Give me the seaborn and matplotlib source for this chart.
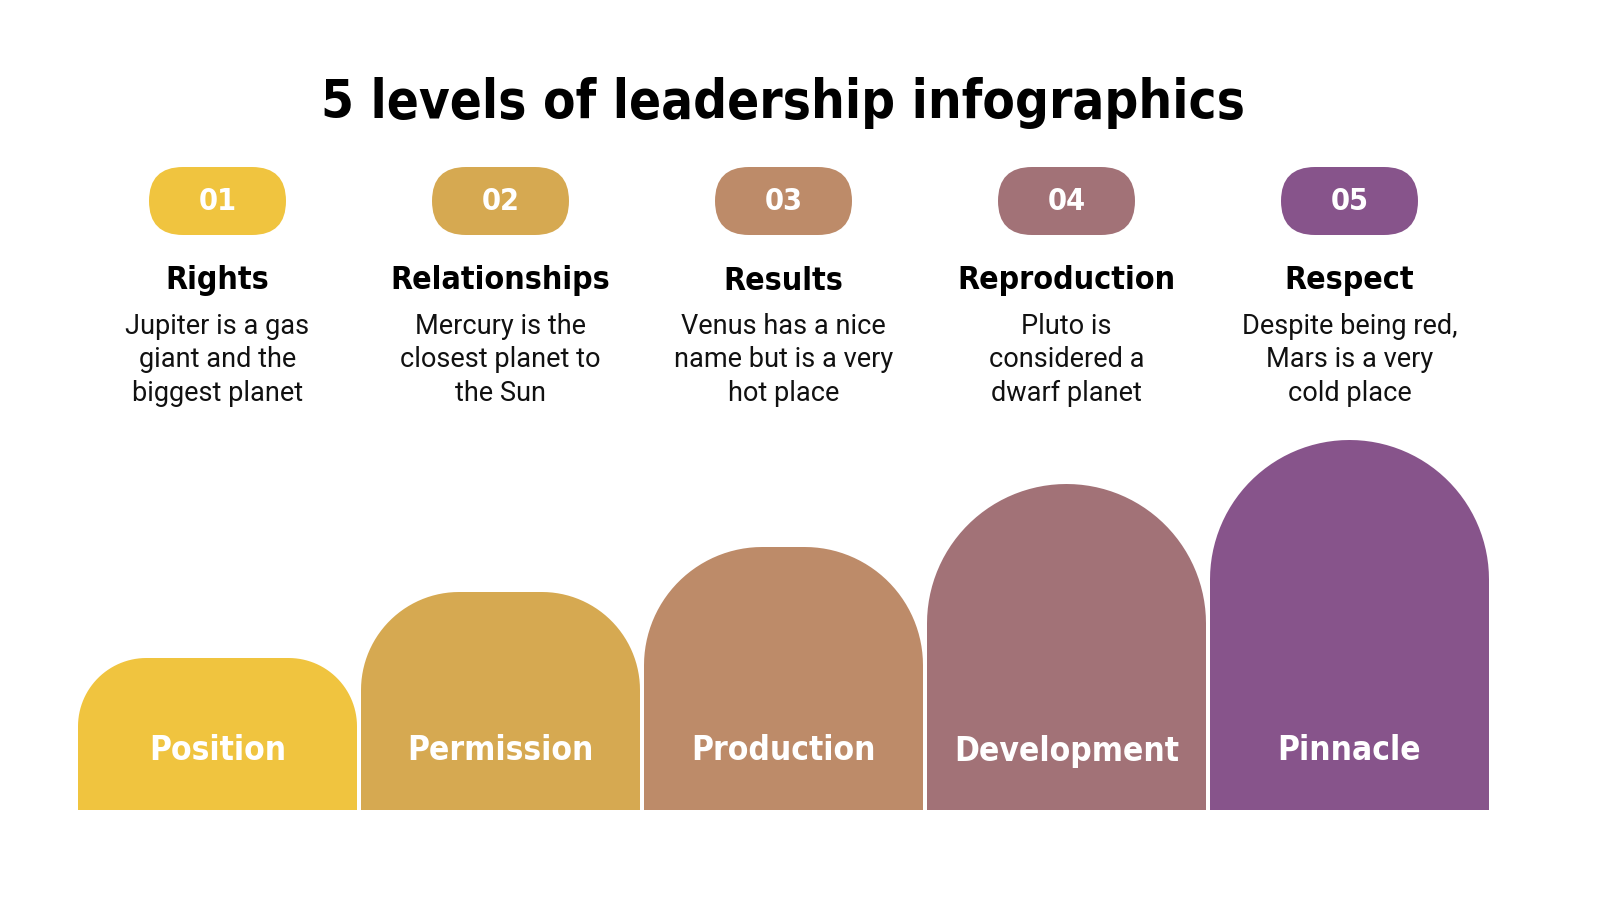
import numpy as np
import matplotlib
matplotlib.use("Agg")
import matplotlib.pyplot as plt
import seaborn as sns
from matplotlib.patches import Polygon, FancyBboxPatch

sns.set_theme(style="white")
plt.rcParams['font.family'] = ['Roboto', 'DejaVu Sans']

title = "5 levels of leadership infographics"
numbers = ["01", "02", "03", "04", "05"]
headings = ["Rights", "Relationships", "Results", "Reproduction", "Respect"]
descriptions = ["Jupiter is a gas\ngiant and the\nbiggest planet",
                "Mercury is the\nclosest planet to\nthe Sun",
                "Venus has a nice\nname but is a very\nhot place",
                "Pluto is\nconsidered a\ndwarf planet",
                "Despite being red,\nMars is a very\ncold place"]
levels = ["Position", "Permission", "Production", "Development", "Pinnacle"]
heights = [152, 218, 263, 326, 370]
colors = ["#F0C43F", "#D6A951", "#BD8B69", "#A27277", "#87548B"]

fig = plt.figure(figsize=(16, 9), dpi=100)
ax = fig.add_axes([0, 0, 1, 1])
ax.set_xlim(0, 1600)
ax.set_ylim(0, 900)
ax.axis("off")

cond = dict(family="DejaVu Sans", fontstretch="condensed", fontweight="bold")
ax.text(783, 900 - 103, title, ha="center", va="center", fontsize=38, color="black", **cond)

step, x0, w, base = 283, 78, 279, 90
for i in range(5):
    left = x0 + i * step
    cx = left + w / 2
    h = heights[i]
    r = min(w / 2, h * 0.45)
    t = np.linspace(0, np.pi / 2, 30)
    pts = [(left, base), (left, base + h - r)]
    pts += list(zip(left + r - r * np.cos(t), base + h - r + r * np.sin(t)))
    pts += list(zip(left + w - r + r * np.sin(t), base + h - r + r * np.cos(t)))
    pts += [(left + w, base + h - r), (left + w, base)]
    ax.add_patch(Polygon(pts, closed=True, color=colors[i], lw=0))
    ax.text(cx, 900 - 751, levels[i], ha="center", va="center", fontsize=24, color="white", **cond)
    pw, ph = 137, 68
    ax.add_patch(FancyBboxPatch((cx - pw / 2 + ph / 2, 900 - 201 - ph / 2 + ph / 2), pw - ph, 0.001,
                                boxstyle=f"round,pad={ph/2}", color=colors[i], lw=0,
                                mutation_aspect=1))
    ax.text(cx, 900 - 202, numbers[i], ha="center", va="center", fontsize=22, color="white", **cond)
    ax.text(cx, 900 - 281, headings[i], ha="center", va="center", fontsize=23, color="black", **cond)
    ax.text(cx, 900 - 313, descriptions[i], ha="center", va="top", fontsize=19.5,
            color="#111111", linespacing=1.3)

fig.savefig("out.png", dpi=100)
